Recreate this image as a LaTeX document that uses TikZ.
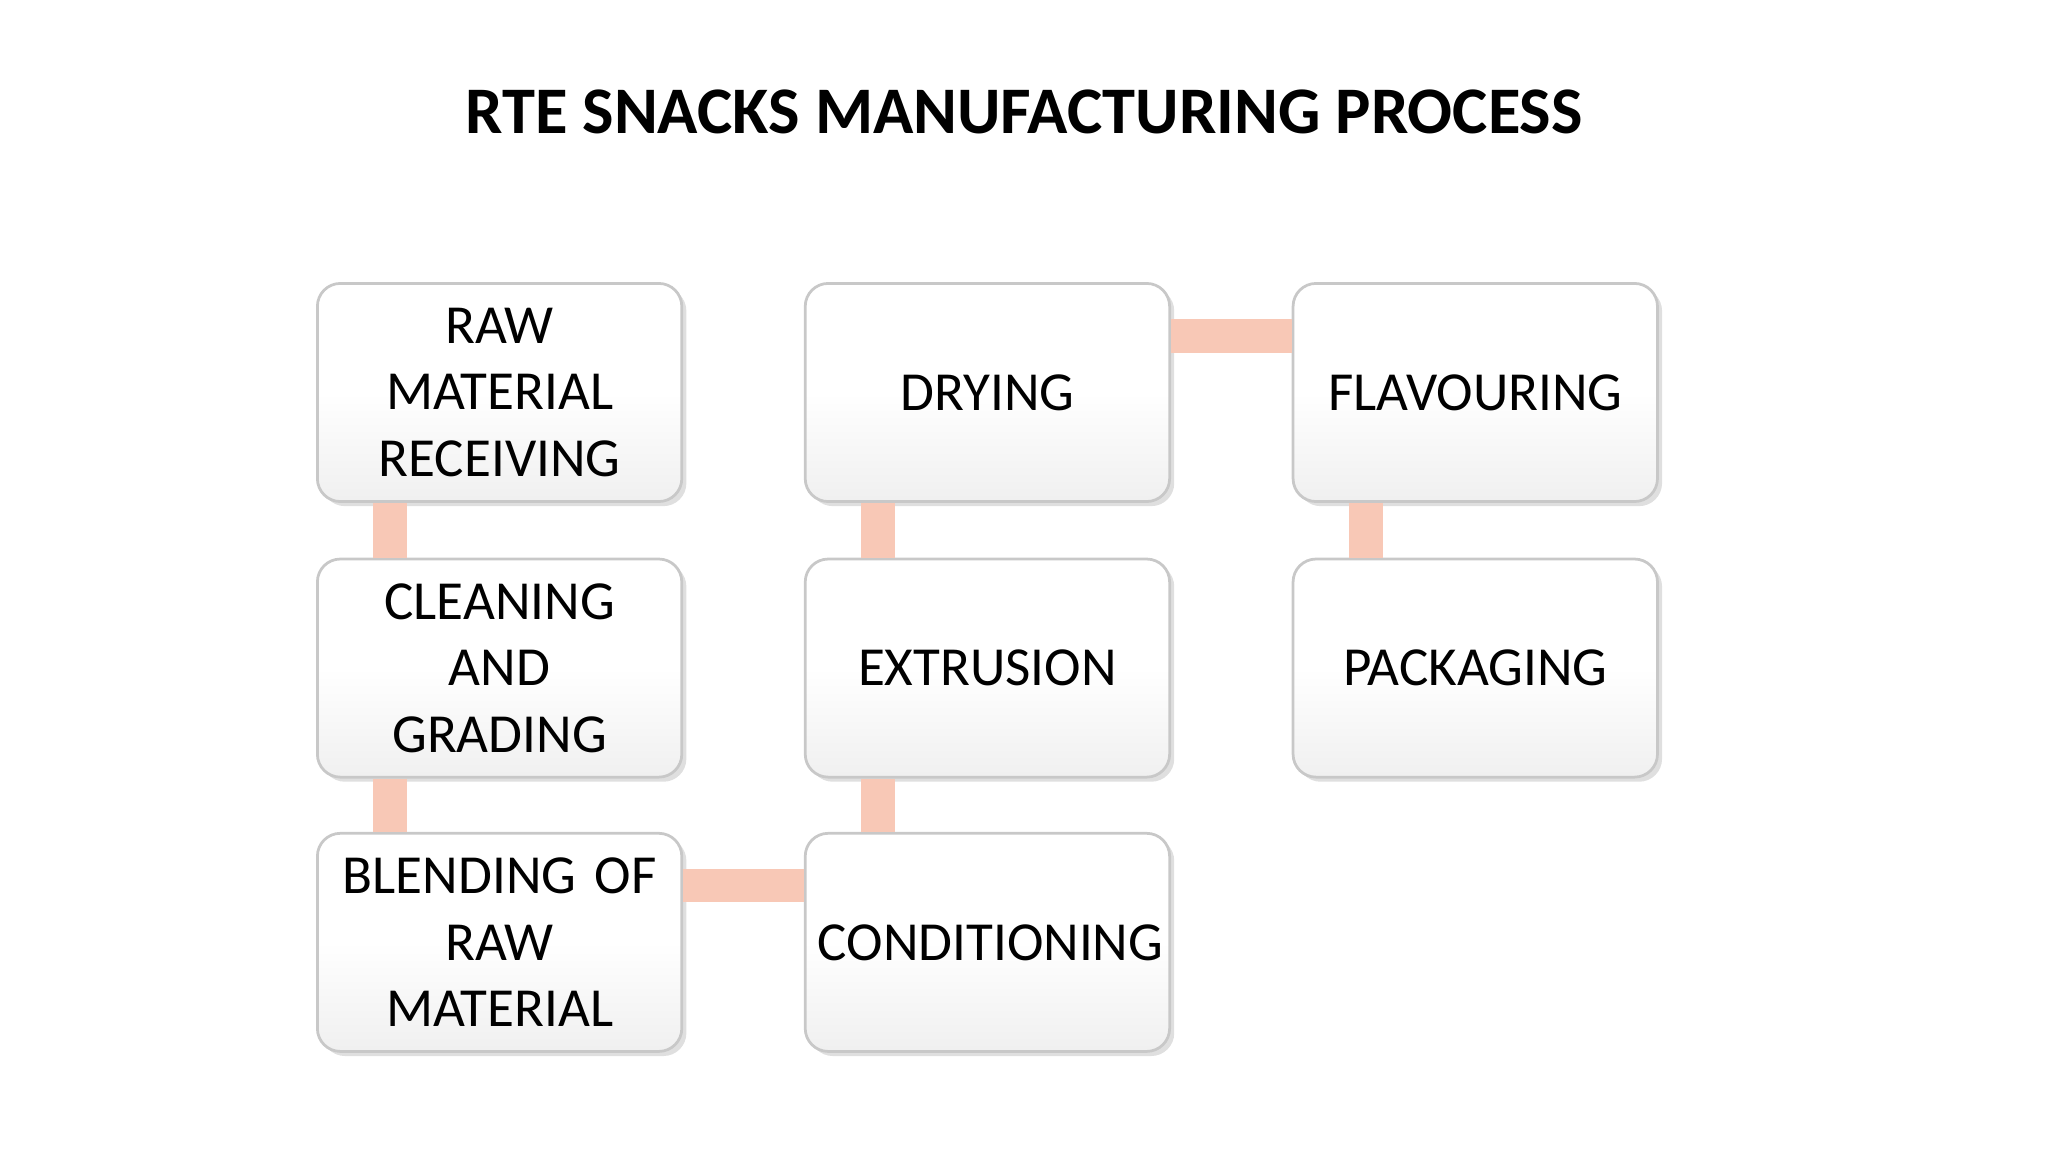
\documentclass[tikz,border=0pt]{standalone}
\usepackage{fontspec}
\setmainfont{Carlito}
\usetikzlibrary{calc,shadows}
\definecolor{conncol}{RGB}{248,200,182}
\definecolor{boxedge}{RGB}{200,200,200}
\tikzset{
  stepbox/.style={draw=boxedge, line width=1.2pt, rounded corners=10pt, minimum width=279*0.02cm, minimum height=167*0.02cm,
    top color=white, bottom color=gray!12, middle color=white, shading angle=0,
    drop shadow={shadow xshift=2pt, shadow yshift=-2pt, opacity=0.25},
    align=center, text width=260*0.02cm, font=\fontsize{24}{29}\selectfont, inner sep=0pt},
  conn/.style={conncol, line width=26*0.02cm}
}
\begin{document}
\begin{tikzpicture}[x=0.02cm,y=-0.02cm]
\useasboundingbox (0,0) rectangle (1568,882);
\node[font=\bfseries\fontsize{29}{34}\selectfont] (title) at (784,86) {RTE SNACKS MANUFACTURING PROCESS};
\node[stepbox] (a) at (382.5,300.5) {RAW\\MATERIAL\\RECEIVING};
\node[stepbox] (b) at (382.5,511.5) {CLEANING AND\\GRADING};
\node[stepbox] (c) at (382.5,721.5) {BLENDING OF\\RAW\\MATERIAL};
\node[stepbox] (d) at (756,721.5) {CONDITIONING};
\node[stepbox] (e) at (756,511.5) {EXTRUSION};
\node[stepbox] (f) at (756,300.5) {DRYING};
\node[stepbox] (g) at (1129.5,300.5) {FLAVOURING};
\node[stepbox] (h) at (1129.5,511.5) {PACKAGING};
\begin{scope}[on background layer/.style={}]
\end{scope}
\draw[conn] ($(a.south west)+(57,0)$) -- ($(b.north west)+(57,0)$);
\draw[conn] ($(b.south west)+(57,0)$) -- ($(c.north west)+(57,0)$);
\draw[conn] ($(c.north east)+(0,41)$) -- ($(d.north west)+(0,41)$);
\draw[conn] ($(d.north west)+(57,0)$) -- ($(e.south west)+(57,0)$);
\draw[conn] ($(e.north west)+(57,0)$) -- ($(f.south west)+(57,0)$);
\draw[conn] ($(f.north east)+(0,41)$) -- ($(g.north west)+(0,41)$);
\draw[conn] ($(g.south west)+(57,0)$) -- ($(h.north west)+(57,0)$);
\end{tikzpicture}
\end{document}
